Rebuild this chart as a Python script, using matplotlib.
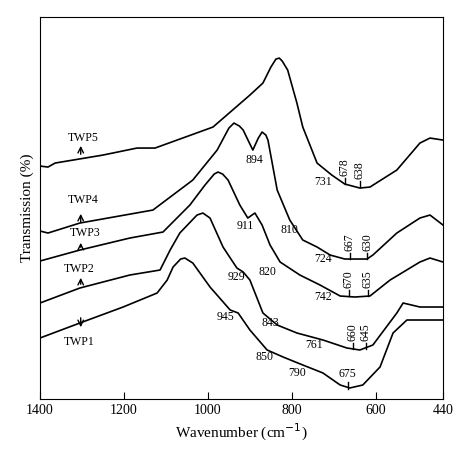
import matplotlib
matplotlib.use("Agg")
import matplotlib.pyplot as plt

plt.rcParams['font.family'] = ['Liberation Serif', 'DejaVu Serif']

# wavenumbers (cm-1) and transmission (arbitrary, offset) for each spectrum
twp5_w = [1400,1381,1364,1250,1169,1126,988,900,869,850,838,830,823,810,788,774,740,705,674,638,614,550,495,471,440]
twp5_t = [234,233,237,245,252,252,273,305,317,333,341,342,339,330,297,273,237,225,216,212,213,230,257,262,260]

twp4_w = [1400,1381,1305,1131,1036,978,950,938,925,916,900,893,880,871,862,857,835,805,774,740,709,674,621,607,550,495,471,440]
twp4_t = [169,167,177,190,220,250,272,277,274,270,256,250,262,268,265,260,210,180,160,153,145,141,141,145,167,182,185,175]

twp3_w = [1400,1305,1186,1107,1043,1007,985,976,965,952,924,905,895,888,871,852,828,781,733,685,650,614,566,495,471,440]
twp3_t = [139,150,162,168,195,215,226,228,226,220,195,182,185,187,175,155,138,125,115,104,103,104,120,138,142,138]

twp2_w = [1400,1305,1186,1114,1090,1067,1026,1012,995,964,931,916,900,869,835,788,726,669,638,607,550,535,495,440]
twp2_t = [97,112,125,130,150,167,185,187,182,153,132,128,120,87,75,67,60,52,50,55,87,97,93,93]

twp1_w = [1400,1305,1202,1121,1097,1083,1065,1055,1036,995,947,928,900,859,821,774,726,685,662,631,590,559,526,440]
twp1_t = [62,77,93,107,120,133,141,142,137,113,90,87,70,50,43,35,27,15,12,15,33,67,80,80]

ticks = [1400, 1200, 1000, 800, 600, 440]

fig = plt.figure(figsize=(4.74, 4.62), dpi=100)
ax = fig.add_axes([0.0844, 0.1364, 0.8502, 0.8266])
for w, t in [(twp5_w, twp5_t), (twp4_w, twp4_t), (twp3_w, twp3_t), (twp2_w, twp2_t), (twp1_w, twp1_t)]:
    ax.plot(w, t, color='black', lw=1.2)

ax.set_xlim(1400, 440)
ax.set_ylim(1, 383)
ax.set_xticks(ticks)
ax.set_yticks([])
ax.tick_params(axis='x', direction='in', labelsize=10, length=5)
ax.set_xlabel('Wavenumber (cm$^{-1}$)', fontsize=11)
ax.set_ylabel('Transmission (%)', fontsize=11)

fs = 8.5
for name, tx, ty, a0, a1 in [('TWP5', 1298, 262, 243, 257),
                             ('TWP4', 1298, 200, 175, 189),
                             ('TWP3', 1293, 167, 150, 160),
                             ('TWP2', 1307, 131, 113, 125)]:
    ax.text(tx, ty, name, fontsize=fs, ha='center', va='center')
    ax.annotate('', xy=(1303, a1), xytext=(1303, a0),
                arrowprops=dict(arrowstyle='->', lw=1, color='black'))
ax.text(1307, 58, 'TWP1', fontsize=fs, ha='center', va='center')
ax.annotate('', xy=(1303, 70), xytext=(1303, 85),
            arrowprops=dict(arrowstyle='->', lw=1, color='black'))

for w, t, s in [(890, 240, '894'), (726, 218, '731'), (910, 174, '911'), (805, 170, '810'),
                (726, 141, '724'), (931, 123, '929'), (859, 128, '820'), (726, 103, '742'),
                (957, 83, '945'), (852, 77, '843'), (747, 55, '761'), (866, 43, '850'),
                (788, 27, '790'), (667, 26, '675')]:
    ax.text(w, t, s, fontsize=fs, ha='center', va='center')

# rotated band labels with tick marks (drawn at their plotted positions)
for w, t0, s in [(674, 216, '678'), (638, 213, '638'), (662, 141, '667'), (621, 141, '630'),
                 (664, 104, '670'), (619, 104, '635'), (655, 51, '660'), (624, 51, '645')]:
    ax.plot([w, w], [t0, t0 + 6], color='black', lw=1)
    ax.text(w, t0 + 8, s, fontsize=fs, rotation=90, ha='center', va='bottom')
ax.plot([667, 667], [11, 18], color='black', lw=1)

fig.savefig('out.png', dpi=100)
